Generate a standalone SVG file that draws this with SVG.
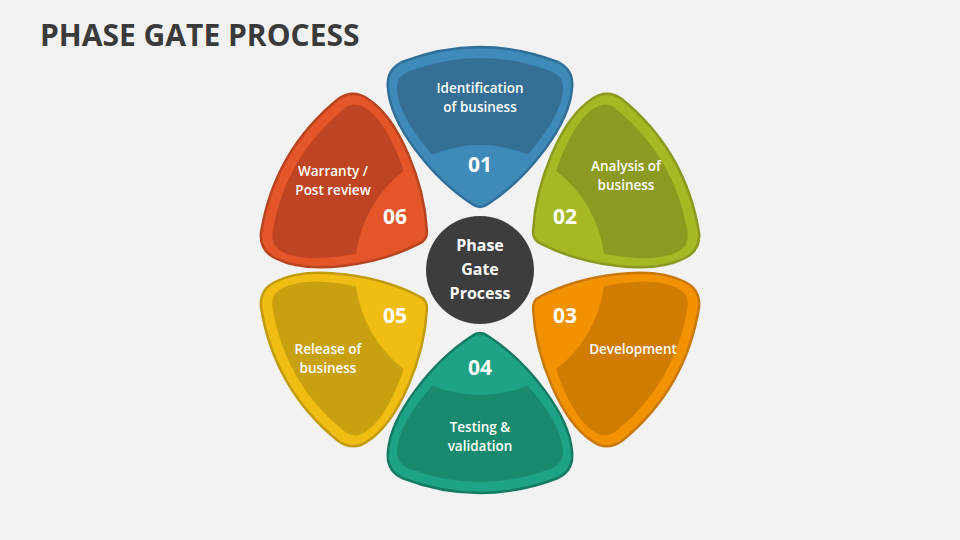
<svg xmlns="http://www.w3.org/2000/svg" width="960" height="540" viewBox="0 0 960 540">
<style>
.lbl{font-family:"Open Sans","Liberation Sans",sans-serif;font-size:13.5px;font-weight:600;fill:#fff;text-anchor:middle}
.num{font-family:"Open Sans","Liberation Sans",sans-serif;font-size:21px;font-weight:bold;fill:#fff;text-anchor:middle}
.ctr{font-family:"Open Sans","Liberation Sans",sans-serif;font-size:16px;font-weight:bold;fill:#fff;text-anchor:middle}
.outer{stroke-width:2.5;stroke-linejoin:round}
</style>
<defs>
<path id="po" d="M -8,-66 Q 0,-60 8,-66 C 48,-92 90,-145 92,-182 Q 94,-200 78,-208 Q 0,-238 -78,-208 Q -94,-200 -92,-182 C -90,-145 -48,-92 -8,-66 Z"/>
<path id="pi" d="M 0,-74 C 40,-100 82,-150 83,-180 Q 84,-194 70,-199 Q 0,-225 -70,-199 Q -84,-194 -83,-180 C -82,-150 -40,-100 0,-74 Z"/>
<mask id="m" maskUnits="userSpaceOnUse" x="-300" y="-300" width="600" height="600">
<rect x="-300" y="-300" width="600" height="600" fill="#fff"/>
<circle cx="0" cy="0" r="125" fill="#000"/>
</mask>
</defs>
<rect width="960" height="540" fill="#f2f2f2"/>
<text x="40" y="46" style="font-family:'Open Sans','Liberation Sans',sans-serif;font-size:30px;font-weight:bold;fill:#3a3a3a">PHASE GATE PROCESS</text>
<g id="petal1" transform="translate(480,270)">
<use href="#po" class="outer" fill="#3e8ab9" stroke="#2e6e97"/>
<use href="#pi" fill="#356f95" mask="url(#m)"/>
</g>
<g id="petal2" transform="translate(480,270) rotate(60)">
<use href="#po" class="outer" fill="#a6b823" stroke="#8a9a1f"/>
<use href="#pi" fill="#8c9a22" mask="url(#m)"/>
</g>
<g id="petal3" transform="translate(480,270) rotate(120)">
<use href="#po" class="outer" fill="#f39200" stroke="#c8780a"/>
<use href="#pi" fill="#d07c00" mask="url(#m)"/>
</g>
<g id="petal4" transform="translate(480,270) rotate(180)">
<use href="#po" class="outer" fill="#1fa386" stroke="#147a62"/>
<use href="#pi" fill="#1a8a6f" mask="url(#m)"/>
</g>
<g id="petal5" transform="translate(480,270) rotate(240)">
<use href="#po" class="outer" fill="#f0bd12" stroke="#c19b0c"/>
<use href="#pi" fill="#c9a00f" mask="url(#m)"/>
</g>
<g id="petal6" transform="translate(480,270) rotate(300)">
<use href="#po" class="outer" fill="#e4552a" stroke="#b8431f"/>
<use href="#pi" fill="#bf4522" mask="url(#m)"/>
</g>
<g id="labels">
<text class="lbl" x="480" y="93">Identification</text><text class="lbl" x="480" y="112">of business</text><text class="num" x="480" y="172">01</text>
<text class="lbl" x="626" y="171">Analysis of</text><text class="lbl" x="626" y="190">business</text><text class="num" x="565" y="224">02</text>
<text class="lbl" x="633" y="354">Development</text><text class="num" x="565" y="323">03</text>
<text class="num" x="480" y="375">04</text><text class="lbl" x="480" y="432">Testing &amp;</text><text class="lbl" x="480" y="451">validation</text>
<text class="num" x="395" y="323">05</text><text class="lbl" x="328" y="354">Release of</text><text class="lbl" x="328" y="373">business</text>
<text class="num" x="395" y="224">06</text><text class="lbl" x="333" y="176">Warranty /</text><text class="lbl" x="333" y="195">Post review</text>
</g>
<g id="center">
<circle cx="480" cy="270" r="54" fill="#3d3d3d"/>
<text class="ctr" x="480" y="251">Phase</text><text class="ctr" x="480" y="275">Gate</text><text class="ctr" x="480" y="299">Process</text>
</g>
<g id="connectors"/>
</svg>
